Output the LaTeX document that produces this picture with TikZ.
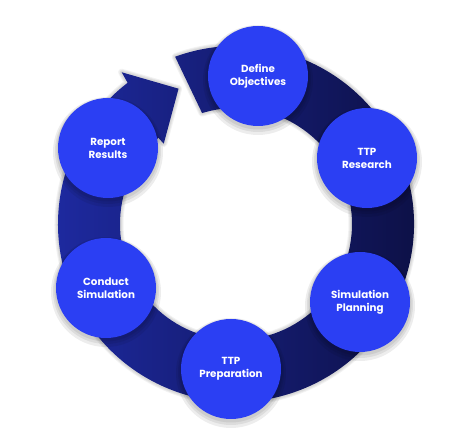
\documentclass[tikz,border=0pt]{standalone}
\usepackage{fontspec}
\setmainfont{Poppins}
\usetikzlibrary{calc}
\definecolor{ringL}{HTML}{1E2AA2}
\definecolor{ringR}{HTML}{0C0F42}
\definecolor{stepblue}{HTML}{2B3FF3}
\tikzset{
  stepcircle/.style={circle, fill=stepblue, minimum size=100pt, inner sep=0pt,
    text=white, font=\bfseries\fontsize{10.3}{13}\selectfont, align=center},
  ring/.style={shading=axis, left color=ringL, right color=ringR},
  softshadow/.style={fill=black, opacity=0.07}
}
\begin{document}
\begin{tikzpicture}[x=1pt,y=1pt]
\useasboundingbox (0,0) rectangle (474,441);
\fill[white] (0,0) rectangle (474,441);
\coordinate (C) at (236,217);
\coordinate (pdef) at (258,365);
\coordinate (pres) at (367,283);
\coordinate (ppla) at (360,139);
\coordinate (ppre) at (231,72);
\coordinate (pcon) at (106,153);
\coordinate (prep) at (108,293);
% ring with arrow: soft shadow
\def\ringpath{($(C)+(110:178)$) arc[start angle=110, end angle=-232.5, radius=178]
  -- ($(C)+(127:190)$) -- ($(C)+(113:147)$) -- ($(C)+(132:108)$)
  -- ($(C)+(132:116)$) arc[start angle=-228, end angle=107, radius=116] -- cycle}
\foreach \w in {7,5,3}
  \draw[black, opacity=0.05, line width=\w pt, line join=round] \ringpath;
\path[ring] \ringpath;
% circle shadows
\foreach \p in {pdef,pres,ppla,ppre,pcon,prep}{
  \foreach \r/\dy in {55/-4,53/-3,51.5/-2}
    \fill[softshadow] ($(\p)+(0,\dy)$) circle (\r);
}
% steps
\node[stepcircle] (def) at (pdef) {Define\\Objectives};
\node[stepcircle] (res) at (pres) {TTP\\Research};
\node[stepcircle] (pla) at (ppla) {Simulation\\Planning};
\node[stepcircle] (pre) at (ppre) {TTP\\Preparation};
\node[stepcircle] (con) at (pcon) {Conduct\\Simulation};
\node[stepcircle] (rep) at (prep) {Report\\Results};
\end{tikzpicture}
\end{document}
